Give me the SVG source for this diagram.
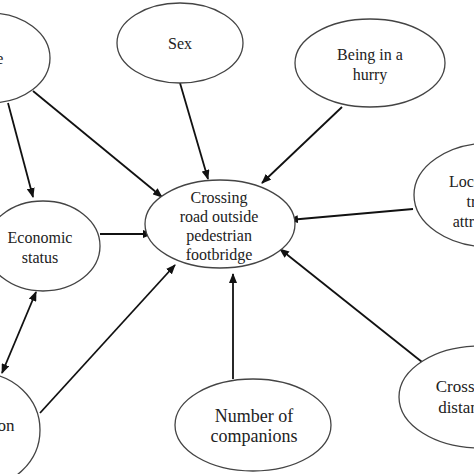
<svg xmlns="http://www.w3.org/2000/svg" width="474" height="474" viewBox="0 0 474 474">
<defs>
<marker id="ah" markerUnits="userSpaceOnUse" markerWidth="10" markerHeight="8" refX="9" refY="4" orient="auto">
<path d="M0,0 L10,4 L0,8 Z" fill="#111"/>
</marker>
<marker id="ahs" markerUnits="userSpaceOnUse" markerWidth="10" markerHeight="8" refX="1" refY="4" orient="auto">
<path d="M10,0 L0,4 L10,8 Z" fill="#111"/>
</marker>
<style>
.n ellipse{fill:#fff;stroke:#444;stroke-width:1.3}
.n text{font-family:"Liberation Serif","Times New Roman",serif;font-size:16px;fill:#222;text-anchor:middle}
#conn line{stroke:#111;stroke-width:1.8;marker-end:url(#ah)}
</style>
</defs>
<rect width="474" height="474" fill="#fff"/>
<g id="conn">
<line x1="8" y1="103" x2="33" y2="197"/>
<line x1="33" y1="91" x2="162" y2="197"/>
<line x1="180" y1="83" x2="208" y2="179"/>
<line x1="342" y1="107" x2="262" y2="183"/>
<line x1="413" y1="209" x2="289" y2="220"/>
<line x1="100" y1="234" x2="152" y2="234"/>
<line x1="36" y1="292" x2="2" y2="373" style="marker-start:url(#ahs)"/>
<line x1="40" y1="413" x2="175" y2="265"/>
<line x1="233" y1="379" x2="233" y2="274"/>
<line x1="422" y1="362" x2="280" y2="249"/>
</g>
<g id="age" class="n">
<ellipse cx="-10" cy="58" rx="60" ry="45"/>
<text x="-10" y="64">Age</text>
</g>
<g id="sex" class="n">
<ellipse cx="180" cy="43" rx="63" ry="40"/>
<text x="180" y="49">Sex</text>
</g>
<g id="hurry" class="n">
<ellipse cx="370" cy="63" rx="75" ry="44"/>
<text x="370" y="60">Being in a</text>
<text x="370" y="80">hurry</text>
</g>
<g id="location" class="n">
<ellipse cx="490" cy="195" rx="76" ry="52"/>
<text x="486" y="187">Location of</text>
<text x="486" y="207">traffic</text>
<text x="486" y="227">attractions</text>
</g>
<g id="economic" class="n">
<ellipse cx="43" cy="246" rx="57" ry="45"/>
<text x="40" y="243">Economic</text>
<text x="40" y="263">status</text>
</g>
<g id="center" class="n">
<ellipse cx="220" cy="224" rx="75" ry="44"/>
<text x="219" y="203">Crossing</text>
<text x="219" y="222">road outside</text>
<text x="219" y="241">pedestrian</text>
<text x="219" y="260">footbridge</text>
</g>
<g id="education" class="n">
<ellipse cx="-20" cy="430" rx="60" ry="57"/>
<text x="-20" y="431" style="font-size:17px">Education</text>
</g>
<g id="companions" class="n">
<ellipse cx="253" cy="425" rx="78" ry="46"/>
<text x="254" y="422" style="font-size:18px">Number of</text>
<text x="254" y="442" style="font-size:18px">companions</text>
</g>
<g id="distance" class="n">
<ellipse cx="480" cy="397" rx="81" ry="51"/>
<text x="466" y="392" style="font-size:17px">Crossing</text>
<text x="466" y="413" style="font-size:17px">distance</text>
</g>
</svg>
